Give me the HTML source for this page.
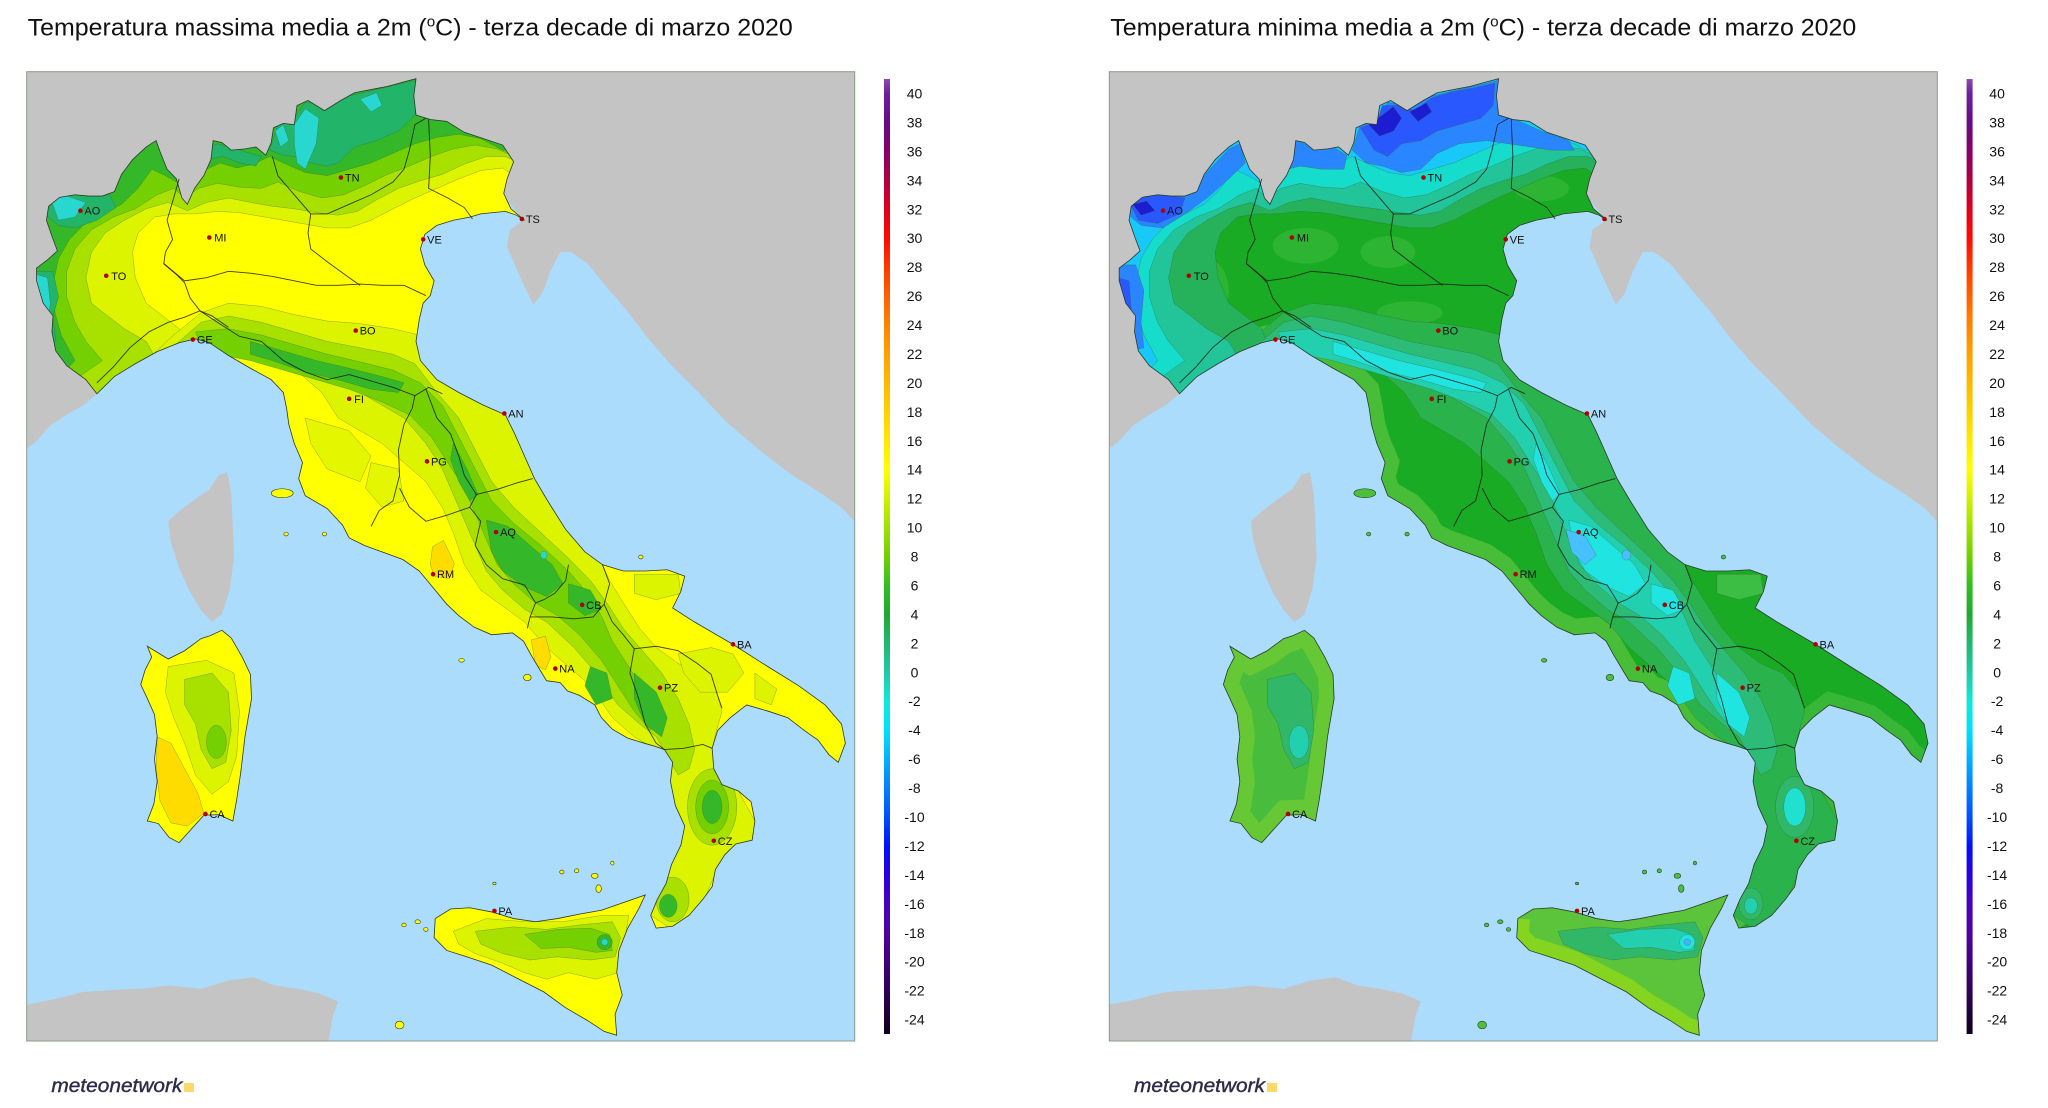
<!DOCTYPE html>
<html><head><meta charset="utf-8">
<style>
html,body{margin:0;padding:0;background:#fff;}
svg{display:block;}
.t{font-family:"Liberation Sans",Arial,sans-serif;fill:#111;}
.z polygon,.z ellipse{stroke:#3a5a30;stroke-width:.5;stroke-opacity:.5;vector-effect:non-scaling-stroke;}
.lab circle{fill:#b00000;}
.lab text{font-family:"Liberation Sans",Arial,sans-serif;font-size:11px;fill:#111;}
</style></head>
<body>
<svg width="2048" height="1108" viewBox="0 0 2048 1108" xmlns="http://www.w3.org/2000/svg" xmlns:xlink="http://www.w3.org/1999/xlink">
<defs>
<path id="itmain" vector-effect="non-scaling-stroke" d="M140,522 L120,500 85,478 65,455 58,425 60,400 42,380 30,345 30,325 50,312 68,298 58,275 48,250 52,228 72,214 100,210 125,212 150,212 172,205 185,178 205,155 230,135 248,125 255,142 268,170 285,185 295,215 305,225 318,200 335,180 348,155 352,125 368,128 385,140 410,138 430,135 448,148 458,128 462,105 480,98 500,100 505,70 525,62 555,78 585,62 610,50 640,45 670,40 700,33 722,28 718,55 722,85 748,92 778,95 810,112 845,122 880,132 900,158 888,185 882,208 895,232 920,250 905,242 885,236 862,238 840,240 820,245 790,250 760,258 738,272 730,295 738,320 755,345 748,368 735,380 728,405 722,440 730,470 760,500 800,520 845,540 885,555 902,585 920,620 938,655 962,690 995,735 1030,770 1062,790 1100,800 1140,800 1180,798 1212,808 1205,832 1190,858 1230,880 1300,915 1360,948 1420,980 1468,1010 1498,1040 1505,1070 1492,1100 1475,1088 1455,1065 1430,1050 1400,1030 1365,1020 1325,1010 1295,1030 1272,1050 1262,1078 1265,1110 1280,1135 1310,1145 1333,1162 1340,1192 1335,1222 1305,1228 1285,1245 1268,1268 1262,1295 1245,1315 1220,1340 1190,1357 1160,1360 1150,1340 1162,1315 1178,1290 1188,1260 1205,1230 1212,1200 1195,1168 1186,1130 1190,1100 1175,1080 1158,1075 1138,1070 1108,1062 1080,1048 1060,1030 1048,1010 1020,995 998,988 985,975 960,972 948,955 932,932 918,910 898,897 860,900 828,888 800,870 778,852 755,828 728,800 698,782 660,770 628,760 600,748 588,728 560,702 520,682 508,655 515,630 500,600 490,570 486,545 480,520 458,500 420,482 380,462 345,442 320,436 290,442 250,456 210,475 172,495 Z"/>
<path id="sic" vector-effect="non-scaling-stroke" d="M757,1345 L785,1330 820,1328 862,1335 900,1345 940,1350 980,1345 1020,1338 1060,1332 1100,1320 1140,1308 1128,1330 1108,1360 1092,1395 1088,1430 1098,1465 1085,1495 1088,1528 1065,1522 1035,1505 995,1485 955,1460 905,1438 860,1418 815,1405 778,1395 755,1375 Z"/>
<path id="sar" vector-effect="non-scaling-stroke" d="M232,918 L240,935 228,955 220,978 232,1000 245,1025 250,1060 245,1095 250,1130 244,1165 232,1192 252,1196 272,1218 290,1226 312,1205 335,1183 362,1182 388,1192 395,1158 402,1118 410,1060 422,1000 420,962 405,935 385,905 368,893 345,902 330,906 300,925 270,938 Z"/>
<g id="isl">
<ellipse vector-effect="non-scaling-stroke" cx="478" cy="678" rx="20" ry="7"/>
<ellipse vector-effect="non-scaling-stroke" cx="555" cy="742" rx="4" ry="3"/>
<ellipse vector-effect="non-scaling-stroke" cx="485" cy="742" rx="4" ry="3"/>
<ellipse vector-effect="non-scaling-stroke" cx="805" cy="940" rx="5" ry="3"/>
<ellipse vector-effect="non-scaling-stroke" cx="925" cy="967" rx="7" ry="5"/>
<ellipse vector-effect="non-scaling-stroke" cx="1132" cy="778" rx="4" ry="3"/>
<ellipse vector-effect="non-scaling-stroke" cx="988" cy="1272" rx="4" ry="3"/>
<ellipse vector-effect="non-scaling-stroke" cx="1015" cy="1270" rx="4" ry="3"/>
<ellipse vector-effect="non-scaling-stroke" cx="1048" cy="1278" rx="6" ry="4"/>
<ellipse vector-effect="non-scaling-stroke" cx="1055" cy="1298" rx="5" ry="6"/>
<ellipse vector-effect="non-scaling-stroke" cx="1080" cy="1258" rx="3" ry="3"/>
<ellipse vector-effect="non-scaling-stroke" cx="700" cy="1355" rx="4" ry="3"/>
<ellipse vector-effect="non-scaling-stroke" cx="725" cy="1350" rx="5" ry="3"/>
<ellipse vector-effect="non-scaling-stroke" cx="740" cy="1362" rx="4" ry="3"/>
<ellipse vector-effect="non-scaling-stroke" cx="692" cy="1512" rx="8" ry="6"/>
<ellipse vector-effect="non-scaling-stroke" cx="865" cy="1290" rx="3" ry="2"/>
</g>
<clipPath id="clipIt"><use xlink:href="#itmain"/><use xlink:href="#sic"/><use xlink:href="#sar"/></clipPath>
<g id="geo">
<rect x="0" y="0" width="1540" height="1560" fill="#acdcfc"/>
<path fill="#c4c4c4" d="M0,0 L1540,0 1540,740 1500,702 1455,675 1405,648 1345,608 1290,568 1235,518 1185,475 1145,435 1105,390 1065,350 1035,318 1005,300 985,300 968,328 952,365 936,382 922,358 905,325 888,292 893,265 918,250 880,210 500,200 300,260 150,450 140,522 115,540 85,555 55,572 28,598 0,615 Z"/>
<path fill="#c4c4c4" d="M292,705 L318,688 345,672 362,650 378,645 385,680 388,730 390,780 382,830 368,868 350,880 330,862 308,830 290,795 275,755 270,722 Z"/>
<path fill="#c4c4c4" d="M0,1482 L60,1472 115,1460 170,1457 220,1455 270,1450 330,1455 380,1442 425,1437 465,1450 505,1455 545,1462 580,1475 570,1500 558,1560 0,1560 Z"/>
</g>
<g id="rl" fill="none">
<path vector-effect="non-scaling-stroke" d="M290,185 L280,215 268,250 278,280 265,300 262,318 285,335 300,348 310,372 328,392"/>
<path vector-effect="non-scaling-stroke" d="M262,318 L300,345 340,340 380,330 420,333 460,338 500,345 540,352 580,352 620,350 660,352 700,352 740,368"/>
<path vector-effect="non-scaling-stroke" d="M460,150 L470,180 490,200 510,220 530,240 525,270 530,295 560,315 600,340 620,352"/>
<path vector-effect="non-scaling-stroke" d="M530,240 L560,240 600,225 640,210 680,190 700,170 710,140 720,100 740,90"/>
<path vector-effect="non-scaling-stroke" d="M745,92 L748,150 745,200 780,215 810,230 825,248"/>
<path vector-effect="non-scaling-stroke" d="M140,505 L170,480 200,450 235,425 270,410 300,402 328,392 350,400 380,418"/>
<path vector-effect="non-scaling-stroke" d="M328,392 L360,410 400,432 440,440 480,470 520,488 560,500 600,492 640,502 680,512 720,525 745,512 770,522"/>
<path vector-effect="non-scaling-stroke" d="M720,525 L715,545 700,570 690,610 692,650 680,690 655,705 640,730"/>
<path vector-effect="non-scaling-stroke" d="M740,515 L760,560 785,585 800,620 810,650 832,680 820,700 780,712 740,722 710,700 692,670"/>
<path vector-effect="non-scaling-stroke" d="M832,680 L870,672 905,662 935,655"/>
<path vector-effect="non-scaling-stroke" d="M820,700 L840,722 830,760 850,790 880,812 920,822 940,850 930,872 925,890"/>
<path vector-effect="non-scaling-stroke" d="M1000,790 L995,815 975,835 955,845 940,850"/>
<path vector-effect="non-scaling-stroke" d="M930,872 L970,872 1010,875 1045,872 1065,852 1075,820 1062,790"/>
<path vector-effect="non-scaling-stroke" d="M1065,852 L1080,880 1100,900 1120,922"/>
<path vector-effect="non-scaling-stroke" d="M1120,922 L1112,960 1128,1000 1140,1040 1160,1070 1175,1080"/>
<path vector-effect="non-scaling-stroke" d="M1120,922 L1160,918 1200,925 1235,945 1260,962 1272,995 1280,1015"/>
<path vector-effect="non-scaling-stroke" d="M1175,1080 L1210,1078 1245,1072 1262,1078"/>
</g>
<linearGradient id="cb" x1="0" y1="0" x2="0" y2="1">
<stop offset="0" stop-color="#8a4cb0"/><stop offset=".0152" stop-color="#6a20a0"/>
<stop offset=".0455" stop-color="#680a88"/><stop offset=".0758" stop-color="#880068"/>
<stop offset=".1061" stop-color="#b00040"/><stop offset=".1364" stop-color="#e0001c"/>
<stop offset=".1667" stop-color="#ff0a00"/><stop offset=".197" stop-color="#ff3800"/>
<stop offset=".2273" stop-color="#ff6000"/><stop offset=".2576" stop-color="#ff8400"/>
<stop offset=".2879" stop-color="#ffa000"/><stop offset=".3182" stop-color="#ffb800"/>
<stop offset=".3485" stop-color="#ffd000"/><stop offset=".3788" stop-color="#ffe800"/>
<stop offset=".4091" stop-color="#ffff00"/><stop offset=".4394" stop-color="#d0f000"/>
<stop offset=".4697" stop-color="#a0e000"/><stop offset=".5" stop-color="#70d000"/>
<stop offset=".5303" stop-color="#30c020"/><stop offset=".5606" stop-color="#20a830"/>
<stop offset=".5909" stop-color="#20b870"/><stop offset=".6212" stop-color="#20c8a8"/>
<stop offset=".6515" stop-color="#10e8d8"/><stop offset=".6818" stop-color="#00e0ff"/>
<stop offset=".7121" stop-color="#00b0ff"/><stop offset=".7424" stop-color="#0080ff"/>
<stop offset=".7727" stop-color="#0050ff"/><stop offset=".803" stop-color="#0010ff"/>
<stop offset=".8333" stop-color="#2800e0"/><stop offset=".8636" stop-color="#4800c0"/>
<stop offset=".8939" stop-color="#5000a0"/><stop offset=".9242" stop-color="#400080"/>
<stop offset=".9545" stop-color="#300058"/><stop offset=".9848" stop-color="#180030"/>
<stop offset="1" stop-color="#100020"/>
</linearGradient>
</defs>

<rect x="0" y="0" width="2048" height="1108" fill="#fff"/>

<!-- Titles -->
<text class="t" x="27.7" y="35.7" font-size="24.5" textLength="765" lengthAdjust="spacingAndGlyphs">Temperatura massima media a 2m (<tspan font-size="15" dy="-9">o</tspan><tspan dy="9">C) - terza decade di marzo 2020</tspan></text>
<text class="t" x="1110.3" y="35.7" font-size="24.5" textLength="746" lengthAdjust="spacingAndGlyphs">Temperatura minima media a 2m (<tspan font-size="15" dy="-9">o</tspan><tspan dy="9">C) - terza decade di marzo 2020</tspan></text>

<!-- LEFT MAP -->
<svg x="26.7" y="71.7" width="828" height="969.3" viewBox="12 17 1510 1520" preserveAspectRatio="none">
<use xlink:href="#geo"/>
<g clip-path="url(#clipIt)">
<rect x="0" y="0" width="1540" height="1560" fill="#ffff00"/>
<g class="z">
<polygon fill="#e4f600" points="520,560 600,580 640,620 620,660 560,640 530,600"/>
<polygon fill="#e4f600" points="640,630 690,640 700,690 660,700 630,670"/>
<polygon fill="#dcf400" points="300,445 290,420 260,400 230,380 210,340 205,300 215,270 245,245 280,240 320,240 360,236 400,238 440,244 480,250 520,256 560,262 600,262 640,250 680,232 720,215 760,200 800,185 840,172 880,168 900,180 960,180 960,0 0,0 0,600 200,600"/>
<polygon fill="#dcf400" points="230,470 280,430 330,395 380,380 440,385 500,398 560,408 620,412 680,420 728,430 760,500 800,520 845,540 885,555 902,585 920,620 938,655 962,690 995,735 1030,770 1062,790 1075,815 1100,850 1130,890 1160,920 1200,945 1240,960 1270,990 1280,1020 1270,1050 1262,1078 1265,1110 1280,1135 1310,1145 1340,1192 1335,1222 1300,1235 1270,1270 1250,1310 1220,1340 1185,1360 1150,1340 1170,1300 1190,1250 1205,1210 1180,1160 1170,1110 1160,1080 1120,1060 1080,1030 1040,980 1000,950 960,920 920,880 880,855 840,830 810,790 790,740 770,700 740,660 700,630 660,600 620,580 580,560 550,520 510,490 460,475 400,460 340,445 290,455 250,480"/>
<polygon fill="#dcf400" points="1120,805 1200,805 1205,835 1160,845 1120,835"/>
<polygon fill="#dcf400" points="1200,930 1260,920 1300,930 1320,960 1290,990 1240,990 1210,960"/>
<polygon fill="#dcf400" points="1340,960 1380,985 1370,1010 1340,1000"/>
<polygon fill="#dcf400" points="790,1365 850,1345 920,1350 990,1350 1060,1340 1110,1340 1100,1390 1090,1430 1050,1440 1000,1430 960,1440 920,1430 880,1415 830,1400 800,1385"/>
<polygon fill="#dcf400" points="270,950 340,940 390,960 400,1020 395,1090 380,1130 350,1150 320,1120 300,1070 280,1030 265,990"/>
<polygon fill="#ffdc00" points="250,1060 275,1070 300,1110 325,1150 335,1180 305,1200 275,1195 255,1160 248,1110"/>
<polygon fill="#ffdc00" points="752,762 772,752 792,788 783,812 755,808 748,790"/>
<polygon fill="#ffdc00" points="932,908 958,902 968,935 958,955 940,948"/>
<polygon fill="#a8e000" points="250,470 230,440 190,420 160,400 130,380 120,340 130,300 155,270 190,250 230,232 270,222 305,235 340,222 380,215 420,222 460,228 500,232 540,238 580,242 615,236 650,218 690,200 730,188 770,178 810,162 850,150 885,150 910,160 960,160 960,0 0,0 0,560 180,560"/>
<polygon fill="#a8e000" points="250,470 290,440 330,410 380,400 440,410 500,425 560,440 620,450 680,460 720,475 760,520 800,560 830,610 860,660 900,700 950,740 1000,780 1040,815 1070,850 1100,890 1140,930 1170,960 1200,1000 1220,1040 1230,1080 1220,1110 1200,1120 1180,1090 1160,1060 1130,1040 1090,1010 1050,960 1010,920 960,880 920,860 880,830 850,800 830,760 810,720 790,680 770,640 740,600 700,560 660,540 620,520 580,500 530,485 480,470 420,458 360,450 300,465 260,490"/>
<polygon fill="#a8e000" points="830,1365 900,1358 960,1362 1020,1355 1080,1350 1095,1375 1085,1405 1040,1410 980,1405 930,1410 880,1400 840,1385"/>
<polygon fill="#a8e000" points="300,970 350,960 380,990 385,1050 375,1100 350,1110 330,1080 320,1040 300,1010"/>
<ellipse fill="#a8e000" cx="1262" cy="1170" rx="45" ry="60"/>
<ellipse fill="#a8e000" cx="1190" cy="1315" rx="30" ry="35"/>
<polygon fill="#74d000" points="150,470 120,440 100,410 85,370 85,330 100,295 130,265 170,245 210,232 250,210 280,200 300,215 325,200 360,192 400,198 440,200 470,190 510,205 550,215 590,210 630,195 670,178 710,165 750,150 790,138 830,132 870,138 900,150 960,150 960,0 0,0 0,560"/>
<polygon fill="#74d000" points="320,425 380,420 440,430 500,445 560,460 620,472 680,485 730,505 770,540 800,590 830,640 860,690 900,725 950,760 1000,800 1040,840 1060,870 1080,910 1110,950 1140,990 1160,1030 1150,1050 1120,1020 1090,980 1060,940 1020,900 980,870 940,850 900,820 870,790 850,750 830,710 810,670 780,630 750,590 710,555 660,535 600,515 540,500 480,485 420,470 360,460 330,450"/>
<polygon fill="#74d000" points="920,1370 980,1362 1040,1360 1075,1370 1080,1395 1050,1398 1000,1390 950,1392"/>
<ellipse fill="#74d000" cx="358" cy="1068" rx="18" ry="26"/>
<ellipse fill="#74d000" cx="1262" cy="1170" rx="30" ry="42"/>
<polygon fill="#34b82a" points="100,470 75,430 62,390 60,350 70,310 90,280 115,258 150,240 185,225 215,200 240,170 265,180 285,190 310,185 340,170 365,160 395,168 425,162 455,150 480,160 520,175 560,180 600,170 640,160 680,145 720,130 760,120 800,115 840,122 880,140 960,140 960,0 0,0 0,560"/>
<polygon fill="#34b82a" points="850,720 890,730 930,760 970,790 990,820 960,840 920,825 880,800 860,770"/>
<polygon fill="#34b82a" points="420,440 480,455 540,470 600,482 660,495 700,505 690,520 640,515 580,500 520,488 460,470 420,460"/>
<polygon fill="#34b82a" points="790,600 815,640 835,680 820,690 800,660 785,625"/>
<polygon fill="#34b82a" points="1000,820 1040,830 1060,860 1030,870 1000,850"/>
<polygon fill="#34b82a" points="1120,960 1160,990 1180,1030 1170,1060 1140,1040 1120,1000"/>
<polygon fill="#34b82a" points="1040,950 1070,960 1080,1000 1050,1010 1030,980"/>
<ellipse fill="#34b82a" cx="1262" cy="1170" rx="18" ry="26"/>
<ellipse fill="#34b82a" cx="1182" cy="1325" rx="16" ry="18"/>
<ellipse fill="#34b82a" cx="1066" cy="1382" rx="14" ry="12"/>
<polygon fill="#22b468" points="20,330 60,330 70,370 60,400 65,440 40,440 20,400"/>
<polygon fill="#22b468" points="40,205 110,200 160,205 175,230 140,250 100,262 70,258 45,240"/>
<polygon fill="#22b468" points="455,140 470,100 500,90 520,65 560,70 600,55 650,45 700,35 725,30 720,85 690,110 650,125 610,135 580,160 560,165 530,160 500,150 480,148"/>
<polygon fill="#22b468" points="330,140 360,130 400,140 440,150 430,165 400,160 370,150 340,155"/>
<polygon fill="#28d8d0" points="500,100 520,75 545,90 540,130 520,170 505,160 500,130"/>
<polygon fill="#28d8d0" points="55,215 85,212 120,222 100,245 70,250"/>
<polygon fill="#28d8d0" points="30,335 50,340 55,380 50,420 35,410 28,370"/>
<polygon fill="#28d8d0" points="465,110 480,100 490,125 475,135"/>
<polygon fill="#28d8d0" points="620,60 650,50 660,70 640,80"/>
<ellipse fill="#28d8d0" cx="955" cy="775" rx="6" ry="6"/>
<ellipse fill="#28d8d0" cx="1066" cy="1382" rx="6" ry="5"/>
</g>
</g>
<use xlink:href="#isl" fill="#ffff00" stroke="#2a3a2a" stroke-width=".6"/>
<use xlink:href="#itmain" fill="none" stroke="#2a3a2a" stroke-width=".8"/>
<use xlink:href="#sic" fill="none" stroke="#2a3a2a" stroke-width=".8"/>
<use xlink:href="#sar" fill="none" stroke="#2a3a2a" stroke-width=".8"/>
<use xlink:href="#rl" stroke="#111" stroke-width=".9" stroke-opacity=".8"/>
<g class="lab">
<g transform="translate(110 235) scale(1.8237 1.5681)"><circle r="2.3"/><text x="4" y="4">AO</text></g>
<g transform="translate(585 183) scale(1.8237 1.5681)"><circle r="2.3"/><text x="4" y="4">TN</text></g>
<g transform="translate(915 248) scale(1.8237 1.5681)"><circle r="2.3"/><text x="4" y="4">TS</text></g>
<g transform="translate(345 277) scale(1.8237 1.5681)"><circle r="2.3"/><text x="5" y="4">MI</text></g>
<g transform="translate(735 280) scale(1.8237 1.5681)"><circle r="2.3"/><text x="4" y="4">VE</text></g>
<g transform="translate(157 337) scale(1.8237 1.5681)"><circle r="2.3"/><text x="5" y="4">TO</text></g>
<g transform="translate(315 437) scale(1.8237 1.5681)"><circle r="2.3"/><text x="4" y="4">GE</text></g>
<g transform="translate(612 423) scale(1.8237 1.5681)"><circle r="2.3"/><text x="4" y="4">BO</text></g>
<g transform="translate(600 530) scale(1.8237 1.5681)"><circle r="2.3"/><text x="5" y="4">FI</text></g>
<g transform="translate(883 553) scale(1.8237 1.5681)"><circle r="2.3"/><text x="4" y="4">AN</text></g>
<g transform="translate(742 628) scale(1.8237 1.5681)"><circle r="2.3"/><text x="4" y="4">PG</text></g>
<g transform="translate(868 739) scale(1.8237 1.5681)"><circle r="2.3"/><text x="4" y="4">AQ</text></g>
<g transform="translate(753 805) scale(1.8237 1.5681)"><circle r="2.3"/><text x="4" y="4">RM</text></g>
<g transform="translate(1025 853) scale(1.8237 1.5681)"><circle r="2.3"/><text x="4" y="4">CB</text></g>
<g transform="translate(1300 915) scale(1.8237 1.5681)"><circle r="2.3"/><text x="4" y="4">BA</text></g>
<g transform="translate(976 953) scale(1.8237 1.5681)"><circle r="2.3"/><text x="4" y="4">NA</text></g>
<g transform="translate(1167 983) scale(1.8237 1.5681)"><circle r="2.3"/><text x="4" y="4">PZ</text></g>
<g transform="translate(1265 1223) scale(1.8237 1.5681)"><circle r="2.3"/><text x="4" y="4">CZ</text></g>
<g transform="translate(338 1181) scale(1.8237 1.5681)"><circle r="2.3"/><text x="4" y="4">CA</text></g>
<g transform="translate(865 1333) scale(1.8237 1.5681)"><circle r="2.3"/><text x="4" y="4">PA</text></g>
</g>
</svg>
<rect x="26.7" y="71.7" width="828" height="969.3" fill="none" stroke="#8c9a8c" stroke-width="1"/>

<!-- RIGHT MAP -->
<svg x="1109.3" y="71.7" width="828" height="969.3" viewBox="12 17 1510 1520" preserveAspectRatio="none">
<use xlink:href="#geo"/>
<g clip-path="url(#clipIt)">
<rect x="0" y="0" width="1540" height="1560" fill="#1aab24"/>
<ellipse fill="#2cb432" cx="175" cy="360" rx="55" ry="55"/>
<ellipse fill="#2cb432" cx="370" cy="290" rx="60" ry="28"/>
<ellipse fill="#2cb432" cx="520" cy="300" rx="50" ry="25"/>
<ellipse fill="#2cb432" cx="800" cy="200" rx="50" ry="20"/>
<ellipse fill="#2cb432" cx="560" cy="395" rx="60" ry="18"/>
<polyline fill="none" stroke="#48be38" stroke-width="50" points="140,522 172,495 210,475 250,456 290,442 320,436 345,442 380,462 420,482 458,500 480,520 486,545 490,570 500,600 515,630 508,655 520,682 560,702 588,728 600,748 628,760 660,770 698,782 728,800 755,828 778,852 800,870 828,888 860,900 898,897 918,910 932,932 948,955 960,972 985,975 998,988 1020,995 1048,1010 1060,1030 1080,1048 1108,1062 1138,1070 1158,1075 1175,1080 1190,1100 1186,1130 1195,1168 1212,1200 1205,1230 1188,1260 1178,1290 1162,1315 1150,1340 1160,1360"/>
<polyline fill="none" stroke="#38b636" stroke-width="40" points="1492,1100 1475,1088 1455,1065 1430,1050 1400,1030 1365,1020 1325,1010 1295,1030 1272,1050 1262,1078 1265,1110 1280,1135 1310,1145 1333,1162 1340,1192 1335,1222 1305,1228 1285,1245 1268,1268 1262,1295 1245,1315 1220,1340 1190,1357"/>
<use xlink:href="#sic" fill="#5cc43a"/>
<polyline fill="none" stroke="#84d420" stroke-width="44" points="1088,1528 1065,1522 1035,1505 995,1485 955,1460 905,1438 860,1418 815,1405 778,1395 755,1375 757,1345"/>
<use xlink:href="#sar" fill="#48bc3c" stroke="#66c834" stroke-width="30"/>
<g class="z">
<polygon fill="#3cbe44" points="1120,805 1200,805 1205,835 1160,845 1120,835"/>
<polygon fill="#2ab24c" points="230,470 280,430 330,395 380,380 440,385 500,398 560,408 620,412 680,420 728,430 760,500 800,520 845,540 885,555 902,585 920,620 938,655 962,690 995,735 1030,770 1062,790 1075,815 1100,850 1130,890 1160,920 1200,945 1240,960 1270,990 1280,1020 1270,1050 1262,1078 1265,1110 1280,1135 1310,1145 1340,1192 1335,1222 1300,1235 1270,1270 1250,1310 1220,1340 1185,1360 1150,1340 1170,1300 1190,1250 1205,1210 1180,1160 1170,1110 1160,1080 1120,1060 1080,1030 1040,980 1000,950 960,920 920,880 880,855 840,830 810,790 790,740 770,700 740,660 700,630 660,600 620,580 580,560 550,520 510,490 460,475 400,460 340,445 290,455 250,480"/>
<polygon fill="#26b25a" points="300,445 290,420 260,400 230,380 210,340 205,300 215,270 245,245 280,240 320,240 360,236 400,238 440,244 480,250 520,256 560,262 600,262 640,250 680,232 720,215 760,200 800,185 840,172 880,168 900,180 960,180 960,0 0,0 0,600 200,600"/>
<polygon fill="#22c49a" points="250,470 230,440 190,420 160,400 130,380 120,340 130,300 155,270 190,250 230,232 270,222 305,235 340,222 380,215 420,222 460,228 500,232 540,238 580,242 615,236 650,218 690,200 730,188 770,178 810,162 850,150 885,150 910,160 960,160 960,0 0,0 0,560 180,560"/>
<polygon fill="#2cbc78" points="250,470 290,440 330,410 380,400 440,410 500,425 560,440 620,450 680,460 720,475 760,520 800,560 830,610 860,660 900,700 950,740 1000,780 1040,815 1070,850 1100,890 1140,930 1170,960 1200,1000 1220,1040 1230,1080 1220,1110 1200,1120 1180,1090 1160,1060 1130,1040 1090,1010 1050,960 1010,920 960,880 920,860 880,830 850,800 830,760 810,720 790,680 770,640 740,600 700,560 660,540 620,520 580,500 530,485 480,470 420,458 360,450 300,465 260,490"/>
<polygon fill="#30b868" points="830,1365 900,1358 960,1362 1020,1355 1080,1350 1095,1375 1085,1405 1040,1410 980,1405 930,1410 880,1400 840,1385"/>
<polygon fill="#30b868" points="300,970 350,960 380,990 385,1050 375,1100 350,1110 330,1080 320,1040 300,1010"/>
<ellipse fill="#30b868" cx="1262" cy="1170" rx="35" ry="48"/>
<ellipse fill="#30b868" cx="1182" cy="1322" rx="22" ry="25"/>
<polygon fill="#16dccc" points="150,470 120,440 100,410 85,370 85,330 100,295 130,265 170,245 210,232 250,210 280,200 300,215 325,200 360,192 400,198 440,200 470,190 510,205 550,215 590,210 630,195 670,178 710,165 750,150 790,138 830,132 870,138 900,150 960,150 960,0 0,0 0,560"/>
<polygon fill="#22d0b0" points="320,425 380,420 440,430 500,445 560,460 620,472 680,485 730,505 770,540 800,590 830,640 860,690 900,725 950,760 1000,800 1040,840 1060,870 1080,910 1110,950 1140,990 1160,1030 1150,1050 1120,1020 1090,980 1060,940 1020,900 980,870 940,850 900,820 870,790 850,750 830,710 810,670 780,630 750,590 710,555 660,535 600,515 540,500 480,485 420,470 360,460 330,450"/>
<polygon fill="#22d0b0" points="920,1370 980,1362 1040,1360 1075,1370 1080,1395 1050,1398 1000,1390 950,1392"/>
<ellipse fill="#22d0b0" cx="358" cy="1068" rx="18" ry="26"/>
<ellipse fill="#20e0d0" cx="1262" cy="1170" rx="20" ry="30"/>
<ellipse fill="#22d0b0" cx="1182" cy="1325" rx="12" ry="13"/>
<polygon fill="#18c8f8" points="100,470 75,430 62,390 60,350 70,310 90,280 115,258 150,240 185,225 215,200 240,170 265,180 285,190 310,185 340,170 365,160 395,168 425,162 455,150 480,160 520,175 560,180 600,170 640,160 680,145 720,130 760,120 800,115 840,122 880,140 960,140 960,0 0,0 0,560"/>
<polygon fill="#20e4e0" points="850,720 890,730 930,760 970,790 990,820 960,840 920,825 880,800 860,770"/>
<polygon fill="#20e4e0" points="420,440 480,455 540,470 600,482 660,495 700,505 690,520 640,515 580,500 520,488 460,470 420,460"/>
<polygon fill="#20e4e0" points="790,600 815,640 835,680 820,690 800,660 785,625"/>
<polygon fill="#20e4e0" points="1000,820 1040,830 1060,860 1030,870 1000,850"/>
<polygon fill="#20e4e0" points="1120,960 1160,990 1180,1030 1170,1060 1140,1040 1120,1000"/>
<polygon fill="#20e4e0" points="1040,950 1070,960 1080,1000 1050,1010 1030,980"/>
<polygon fill="#48c0ff" points="845,735 880,745 900,775 880,790 855,770"/>
<ellipse fill="#48c0ff" cx="955" cy="775" rx="8" ry="8"/>
<ellipse fill="#20e4e0" cx="1066" cy="1382" rx="14" ry="12"/>
<ellipse fill="#48b0ff" cx="1066" cy="1382" rx="6" ry="5"/>
<polygon fill="#2a86ff" points="455,140 470,100 500,90 520,65 560,70 600,55 650,45 700,35 725,30 720,85 760,95 800,110 850,125 860,140 820,140 780,135 740,130 700,125 650,130 610,145 580,170 545,175 510,165 480,160"/>
<polygon fill="#2a86ff" points="330,140 355,125 380,135 420,135 445,148 440,170 400,170 360,165 335,170"/>
<polygon fill="#2a86ff" points="20,320 60,320 75,360 70,410 75,450 45,455 20,420"/>
<polygon fill="#2a86ff" points="40,205 110,200 165,205 190,175 230,138 250,130 260,160 230,185 190,215 150,240 110,262 70,258 45,240"/>
<polygon fill="#2a58ff" points="470,105 500,95 510,70 540,70 570,78 600,58 640,48 680,42 715,35 712,70 690,90 650,100 610,110 580,125 545,130 520,150 495,140"/>
<polygon fill="#2a58ff" points="45,215 100,210 150,215 140,240 100,255 65,250"/>
<polygon fill="#2a58ff" points="28,340 48,345 52,390 48,430 35,420 25,380"/>
<polygon fill="#1c1cd0" points="485,100 510,85 530,72 545,90 530,110 505,118"/>
<polygon fill="#1c1cd0" points="560,80 590,66 600,80 575,95"/>
<polygon fill="#1c1cd0" points="55,225 80,220 95,235 70,242"/>
</g>
</g>
<use xlink:href="#isl" fill="#4cc03a" stroke="#2a3a2a" stroke-width=".6"/>
<use xlink:href="#itmain" fill="none" stroke="#2a3a2a" stroke-width=".8"/>
<use xlink:href="#sic" fill="none" stroke="#2a3a2a" stroke-width=".8"/>
<use xlink:href="#sar" fill="none" stroke="#2a3a2a" stroke-width=".8"/>
<use xlink:href="#rl" stroke="#111" stroke-width=".9" stroke-opacity=".8"/>
<g class="lab">
<g transform="translate(110 235) scale(1.8237 1.5681)"><circle r="2.3"/><text x="4" y="4">AO</text></g>
<g transform="translate(585 183) scale(1.8237 1.5681)"><circle r="2.3"/><text x="4" y="4">TN</text></g>
<g transform="translate(915 248) scale(1.8237 1.5681)"><circle r="2.3"/><text x="4" y="4">TS</text></g>
<g transform="translate(345 277) scale(1.8237 1.5681)"><circle r="2.3"/><text x="5" y="4">MI</text></g>
<g transform="translate(735 280) scale(1.8237 1.5681)"><circle r="2.3"/><text x="4" y="4">VE</text></g>
<g transform="translate(157 337) scale(1.8237 1.5681)"><circle r="2.3"/><text x="5" y="4">TO</text></g>
<g transform="translate(315 437) scale(1.8237 1.5681)"><circle r="2.3"/><text x="4" y="4">GE</text></g>
<g transform="translate(612 423) scale(1.8237 1.5681)"><circle r="2.3"/><text x="4" y="4">BO</text></g>
<g transform="translate(600 530) scale(1.8237 1.5681)"><circle r="2.3"/><text x="5" y="4">FI</text></g>
<g transform="translate(883 553) scale(1.8237 1.5681)"><circle r="2.3"/><text x="4" y="4">AN</text></g>
<g transform="translate(742 628) scale(1.8237 1.5681)"><circle r="2.3"/><text x="4" y="4">PG</text></g>
<g transform="translate(868 739) scale(1.8237 1.5681)"><circle r="2.3"/><text x="4" y="4">AQ</text></g>
<g transform="translate(753 805) scale(1.8237 1.5681)"><circle r="2.3"/><text x="4" y="4">RM</text></g>
<g transform="translate(1025 853) scale(1.8237 1.5681)"><circle r="2.3"/><text x="4" y="4">CB</text></g>
<g transform="translate(1300 915) scale(1.8237 1.5681)"><circle r="2.3"/><text x="4" y="4">BA</text></g>
<g transform="translate(976 953) scale(1.8237 1.5681)"><circle r="2.3"/><text x="4" y="4">NA</text></g>
<g transform="translate(1167 983) scale(1.8237 1.5681)"><circle r="2.3"/><text x="4" y="4">PZ</text></g>
<g transform="translate(1265 1223) scale(1.8237 1.5681)"><circle r="2.3"/><text x="4" y="4">CZ</text></g>
<g transform="translate(338 1181) scale(1.8237 1.5681)"><circle r="2.3"/><text x="4" y="4">CA</text></g>
<g transform="translate(865 1333) scale(1.8237 1.5681)"><circle r="2.3"/><text x="4" y="4">PA</text></g>
</g>
</svg>
<rect x="1109.3" y="71.7" width="828" height="969.3" fill="none" stroke="#8c9a8c" stroke-width="1"/>

<!-- Colorbars -->
<rect x="884" y="79" width="6" height="955" fill="url(#cb)"/>
<rect x="1966.6" y="79" width="6" height="955" fill="url(#cb)"/>
<g class="t" font-size="14" text-anchor="middle" fill="#222">
<text x="914.5" y="98.5">40</text><text x="914.5" y="127.4">38</text><text x="914.5" y="156.4">36</text><text x="914.5" y="185.3">34</text>
<text x="914.5" y="214.3">32</text><text x="914.5" y="243.2">30</text><text x="914.5" y="272.1">28</text><text x="914.5" y="301.1">26</text>
<text x="914.5" y="330">24</text><text x="914.5" y="359">22</text><text x="914.5" y="387.9">20</text><text x="914.5" y="416.8">18</text>
<text x="914.5" y="445.8">16</text><text x="914.5" y="474.7">14</text><text x="914.5" y="503.7">12</text><text x="914.5" y="532.6">10</text>
<text x="914.5" y="561.5">8</text><text x="914.5" y="590.5">6</text><text x="914.5" y="619.4">4</text><text x="914.5" y="648.4">2</text>
<text x="914.5" y="677.3">0</text><text x="914.5" y="706.2">-2</text><text x="914.5" y="735.2">-4</text><text x="914.5" y="764.1">-6</text>
<text x="914.5" y="793.1">-8</text><text x="914.5" y="822">-10</text><text x="914.5" y="850.9">-12</text><text x="914.5" y="879.9">-14</text>
<text x="914.5" y="908.8">-16</text><text x="914.5" y="937.8">-18</text><text x="914.5" y="966.7">-20</text><text x="914.5" y="995.6">-22</text>
<text x="914.5" y="1024.6">-24</text>
</g>
<g class="t" font-size="14" text-anchor="middle" fill="#222">
<text x="1997.1" y="98.5">40</text><text x="1997.1" y="127.4">38</text><text x="1997.1" y="156.4">36</text><text x="1997.1" y="185.3">34</text>
<text x="1997.1" y="214.3">32</text><text x="1997.1" y="243.2">30</text><text x="1997.1" y="272.1">28</text><text x="1997.1" y="301.1">26</text>
<text x="1997.1" y="330">24</text><text x="1997.1" y="359">22</text><text x="1997.1" y="387.9">20</text><text x="1997.1" y="416.8">18</text>
<text x="1997.1" y="445.8">16</text><text x="1997.1" y="474.7">14</text><text x="1997.1" y="503.7">12</text><text x="1997.1" y="532.6">10</text>
<text x="1997.1" y="561.5">8</text><text x="1997.1" y="590.5">6</text><text x="1997.1" y="619.4">4</text><text x="1997.1" y="648.4">2</text>
<text x="1997.1" y="677.3">0</text><text x="1997.1" y="706.2">-2</text><text x="1997.1" y="735.2">-4</text><text x="1997.1" y="764.1">-6</text>
<text x="1997.1" y="793.1">-8</text><text x="1997.1" y="822">-10</text><text x="1997.1" y="850.9">-12</text><text x="1997.1" y="879.9">-14</text>
<text x="1997.1" y="908.8">-16</text><text x="1997.1" y="937.8">-18</text><text x="1997.1" y="966.7">-20</text><text x="1997.1" y="995.6">-22</text>
<text x="1997.1" y="1024.6">-24</text>
</g>

<!-- Logos -->
<text x="51.4" y="1092" font-family="Liberation Sans, Arial, sans-serif" font-size="19" font-style="italic" fill="#2d2b4a" stroke="#2d2b4a" stroke-width=".4" textLength="131" lengthAdjust="spacingAndGlyphs">meteonetwork</text>
<rect x="184" y="1083" width="10" height="9" fill="#fcd96a"/>
<text x="1134" y="1092" font-family="Liberation Sans, Arial, sans-serif" font-size="19" font-style="italic" fill="#2d2b4a" stroke="#2d2b4a" stroke-width=".4" textLength="131" lengthAdjust="spacingAndGlyphs">meteonetwork</text>
<rect x="1267" y="1083" width="10" height="9" fill="#fcd96a"/>
</svg>
</body></html>
